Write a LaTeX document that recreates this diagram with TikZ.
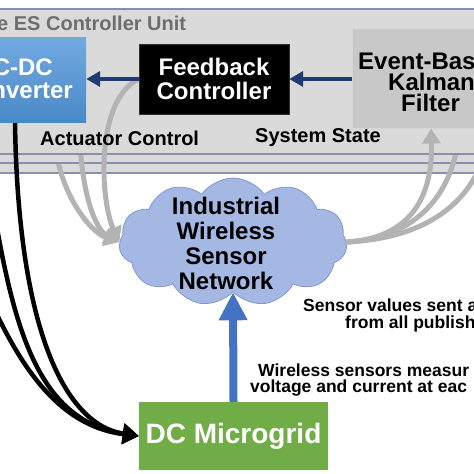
\documentclass[tikz,border=0pt]{standalone}
\usepackage{fontspec}
\setmainfont{Liberation Sans}
\usetikzlibrary{arrows.meta,shapes.symbols}
\definecolor{panelfill}{HTML}{DADADA}
\definecolor{panelline}{HTML}{8690AC}
\definecolor{convtop}{HTML}{72AAE0}
\definecolor{convbot}{HTML}{4A89C8}
\definecolor{navy}{HTML}{1F3B73}
\definecolor{graycurve}{HTML}{B3B3B3}
\definecolor{cloudfill}{HTML}{A5B8E3}
\definecolor{cloudline}{HTML}{8098CF}
\definecolor{bluearrow}{HTML}{4472C4}
\definecolor{gridgreen}{HTML}{70AD47}
\definecolor{kalfill}{HTML}{C8C8C8}
\definecolor{kalline}{HTML}{D6D6D6}
\definecolor{titlegray}{HTML}{6E6E6E}
\pgfdeclarelayer{pa}
\pgfdeclarelayer{ca}
\pgfdeclarelayer{pb}
\pgfdeclarelayer{cb}
\pgfdeclarelayer{pc}
\pgfdeclarelayer{cc}
\pgfsetlayers{pa,ca,pb,cb,pc,cc,main}
\begin{document}
\begin{tikzpicture}[x=1pt,y=-1pt,
  lbl/.style={font=\bfseries\fontsize{20}{22}\selectfont, inner sep=0pt, anchor=west},
  boxtxt/.style={font=\bfseries\fontsize{24}{24}\selectfont, inner sep=0pt},
  side/.style={font=\bfseries\fontsize{17.5}{19}\selectfont, inner sep=0pt, anchor=west},
  panel/.style={fill=panelfill, draw=panelline, line width=1.2pt},
  graylink/.style={draw=graycurve, line width=5pt},
  grayarrow/.style={graylink, -{Triangle[width=18pt,length=15pt]}},
  blackarrow/.style={draw=black, line width=4.5pt, -{Triangle[width=20pt,length=16pt]}},
  navyarrow/.style={draw=navy, line width=4pt, -{Triangle[width=15pt,length=14pt]}},
  bluearr/.style={draw=bluearrow, line width=8pt, -{Triangle[width=27pt,length=28pt]}},
]
\useasboundingbox (0,0) rectangle (474,474);
\clip (0,0) rectangle (474,474);

% panels (stacked)
\begin{pgfonlayer}{pa}
  \fill[white] (0,0) rectangle (474,474);
  \path[panel] (-10,9) rectangle (484,173);
\end{pgfonlayer}
\begin{pgfonlayer}{pb}
  \path[panel] (-10,9) rectangle (484,163);
\end{pgfonlayer}
\begin{pgfonlayer}{pc}
  \path[panel] (-10,9) rectangle (484,154);
\end{pgfonlayer}

% title
\node[lbl, text=titlegray] (title) at (-3,23) {e ES Controller Unit};

% boxes
\node[minimum width=142pt, minimum height=85pt, inner sep=0pt,
      top color=convtop, bottom color=convbot] (conv) at (15,79.5) {};
\node[boxtxt, text=white, anchor=east] (convt1) at (53,67) {C-DC};
\node[boxtxt, text=white, anchor=east] (convt2) at (73,91) {nverter};

\node[boxtxt, fill=black, draw=black!80, text=white, align=center,
      minimum width=150pt, minimum height=70pt] (fb) at (214,79) {Feedback\\Controller};

\node[fill=kalfill, draw=kalline, line width=1pt, minimum width=158pt,
      minimum height=100pt, inner sep=0pt] (kf) at (431,78) {};
\node[boxtxt, font=\bfseries\fontsize{24}{21}\selectfont, align=left, anchor=north west]
  (kft) at (358,53) {Event-Bas\\\hspace*{30pt}Kalman\\\hspace*{43pt}Filter};

\node[lbl] (act) at (40,138) {Actuator Control};
\node[lbl] (sys) at (255,138) {System State};

% cloud
\node[cloud, cloud puffs=11, cloud puff arc=110, cloud ignores aspect,
      minimum width=228pt, minimum height=128pt, fill=cloudfill,
      draw=cloudline, line width=0.8pt, inner sep=0pt] (iwsn) at (233,242) {};
\node[boxtxt, font=\bfseries\fontsize{24}{25}\selectfont, align=center] (iwsnt) at (226,243)
  {Industrial\\Wireless\\Sensor\\Network};

% microgrid
\node[fill=gridgreen, text=white, font=\bfseries\fontsize{28}{30}\selectfont,
      minimum width=189pt, minimum height=68pt, inner sep=0pt] (grid) at (233.5,436) {DC Microgrid};

% side texts
\node[side] (s1) at (303,305) {Sensor values sent a};
\node[side] (s2) at (345,324) {from all publish};
\node[side] (s3) at (258,370) {Wireless sensors measur};
\node[side] (s4) at (250,388) {voltage and current at eac};

% free ends
\coordinate (l3s) at (56,150);
\coordinate (l2s) at (80,140);
\coordinate (r2e) at (458,140);
\coordinate (r3e) at (486,150);
\coordinate (bB) at (-12,175);
\coordinate (bC) at (-25,265);

% gray curves: back ones
\begin{pgfonlayer}{ca}
  \draw[grayarrow] (l3s) .. controls (62,195) and (90,232) .. (iwsn.west);
  \draw[graylink] (iwsn.east) .. controls (430,238) and (472,200) .. (r3e);
\end{pgfonlayer}
\begin{pgfonlayer}{cb}
  \draw[grayarrow] (l2s) .. controls (82,195) and (96,230) .. (iwsn.west);
  \draw[graylink] (iwsn.east) .. controls (420,238) and (452,190) .. (r2e);
\end{pgfonlayer}
\begin{pgfonlayer}{cc}
  \draw[grayarrow] (fb.west) .. controls (95,100) and (100,200) .. (iwsn.west);
  \draw[grayarrow] (iwsn.east) .. controls (412,238) and (433,195) .. (kf.south);
  % black curves to the microgrid
  \draw[blackarrow] (bC) .. controls (10,350) and (50,425) .. (grid.west);
  \draw[blackarrow] (bB) .. controls (10,310) and (30,420) .. (grid.west);
  \draw[blackarrow] (conv.south) .. controls (18,330) and (65,425) .. (grid.west);
\end{pgfonlayer}

% navy arrows
\draw[navyarrow] (fb.west) -- (conv.east |- fb.west);
\draw[navyarrow] (kf.west |- fb.east) -- (fb.east);

% blue arrow
\draw[bluearr] (grid.north) -- (iwsn.south);
\end{tikzpicture}
\end{document}
